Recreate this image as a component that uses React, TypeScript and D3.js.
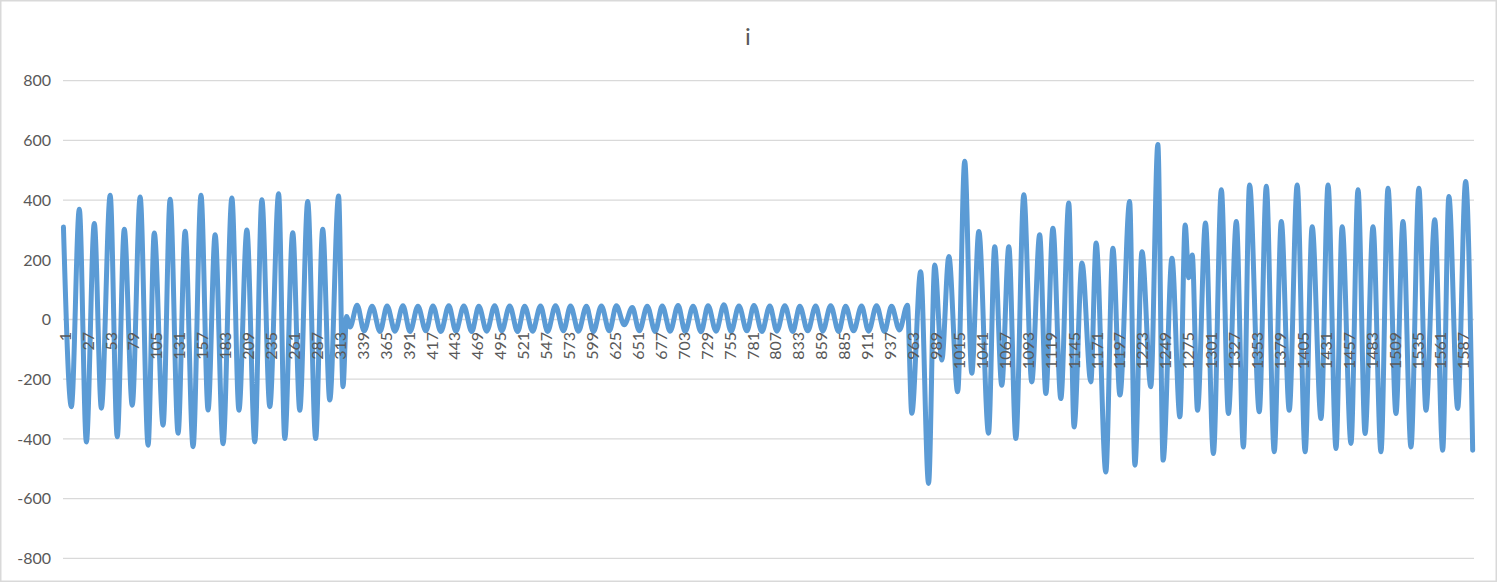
import React from 'react';
import * as d3 from 'd3';

// Sample numbers (category index) of the turning points of the trace
const sampleNo: number[] = [
  1, 10, 19, 27, 36, 44, 54, 62, 70, 79, 88, 97, 104, 114, 122, 131, 139, 148, 157, 165,
  173, 182, 192, 200, 209, 218, 226, 235, 245, 252, 261, 269, 278, 287, 295, 303, 313, 318,
  322, 326,
  334, 342, 351, 360, 368, 377, 386, 394, 403, 412, 420, 429, 438, 446, 455, 464, 472, 481,
  490, 498, 507, 516, 524, 533, 542, 550, 559, 568, 576, 585, 594, 602, 611, 620, 628, 637,
  646, 654, 663, 672, 680, 689, 698, 706, 715, 724, 732, 741, 750, 758, 767, 776, 784, 793,
  802, 810, 819, 828, 836, 845, 854, 862, 871, 880, 888, 897, 906, 914, 923, 932, 940, 949,
  958,
  963, 973, 982, 989, 997, 1005, 1015, 1023, 1031, 1039, 1050, 1057, 1065, 1073, 1081, 1090,
  1099, 1108, 1115, 1123, 1132, 1141, 1147, 1156, 1166, 1172, 1183, 1191, 1199, 1210, 1216,
  1224, 1234, 1242, 1248, 1258, 1267, 1273, 1277, 1281, 1287, 1296, 1305, 1314, 1322, 1331,
  1339, 1346, 1357, 1365, 1374, 1382, 1391, 1400, 1409, 1417, 1427, 1435, 1444, 1451, 1461,
  1469, 1477, 1486, 1495, 1503, 1512, 1520, 1529, 1538, 1546, 1556, 1565, 1572, 1582, 1591,
  1599,
];

// Value of series "i" at those samples
const current: number[] = [
  310, -292, 369, -410, 322, -297, 416, -393, 302, -287, 410, -421, 290, -354, 403, -381, 296, -426, 416, -303,
  284, -416, 407, -304, 300, -410, 401, -292, 421, -399, 291, -304, 395, -399, 302, -270, 414, -225,
  10, -25,
  48, -38, 44, -40, 45, -39, 46, -40, 44, -38, 45, -40, 46, -39, 45, -40, 44, -39,
  46, -38, 45, -40, 44, -39, 45, -40, 46, -38, 45, -39, 44, -40, 45, -38, 46, -18,
  40, -38, 44, -40, 45, -39, 47, -40, 44, -41, 46, -39, 49, -40, 45, -38, 47, -40,
  45, -39, 46, -40, 44, -38, 45, -39, 46, -40, 44, -38, 45, -39, 46, -40, 44, -35,
  48,
  -314, 160, -549, 183, -136, 211, -242, 530, -180, 295, -381, 244, -220, 244, -399, 418,
  -209, 284, -248, 306, -265, 390, -360, 189, -209, 256, -511, 239, -253, 395, -488,
  227, -225, 586, -471, 205, -326, 317, 140, 216, -304, 323, -449, 435, -315, 328,
  -427, 451, -309, 446, -443, 328, -304, 451, -443, 311, -332, 451, -432, 311, -415,
  435, -382, 311, -443, 440, -315, 328, -427, 440, -304, 334, -438, 412, -298, 462,
  -438,
];

const sampleCount = 1600;
const yTicks: number[] = [-800, -600, -400, -200, 0, 200, 400, 600, 800];
const xTickLabels: number[] = [
  1, 27, 53, 79, 105, 131, 157, 183, 209, 235, 261, 287, 313, 339, 365, 391, 417, 443, 469, 495,
  521, 547, 573, 599, 625, 651, 677, 703, 729, 755, 781, 807, 833, 859, 885, 911, 937, 963, 989,
  1015, 1041, 1067, 1093, 1119, 1145, 1171, 1197, 1223, 1249, 1275, 1301, 1327, 1353, 1379, 1405,
  1431, 1457, 1483, 1509, 1535, 1561, 1587,
];
const chartTitle = 'i';

export default function App() {
  const W = 1497;
  const H = 582;
  const left = 63;
  const right = 1474;
  const x = d3.scaleLinear().domain([0.5, sampleCount + 0.5]).range([left, right]);
  const y = d3.scaleLinear().domain([-800, 800]).range([558.3, 80.7]);
  const pts: [number, number][] = sampleNo.map((s, i) => [s, current[i]]);
  const line = d3
    .line<[number, number]>()
    .x((d) => x(d[0]))
    .y((d) => y(d[1]))
    .curve(d3.curveMonotoneX);
  const font = 'Lato, "Open Sans", sans-serif';
  const grey = '#595959';

  return (
    <svg width={W} height={H} style={{ position: 'absolute', left: 0, top: 0 }}>
      <rect x={0.75} y={0.75} width={W - 1.5} height={H - 1.5} fill="#fff" stroke="#d9d9d9" strokeWidth={1.5} />
      <text x={748} y={45} textAnchor="middle" fontFamily={font} fontSize={24} fill={grey}>
        {chartTitle}
      </text>
      {yTicks.map((t) => (
        <g key={t}>
          <line x1={left} x2={right} y1={y(t)} y2={y(t)} stroke="#d9d9d9" strokeWidth={1.3} />
          <text x={51} y={y(t)} dy="0.36em" textAnchor="end" fontFamily={font} fontSize={16} fill={grey}>
            {t}
          </text>
        </g>
      ))}
      <path
        d={line(pts) || ''}
        fill="none"
        stroke="#5B9BD5"
        strokeWidth={5}
        strokeLinejoin="round"
        strokeLinecap="round"
      />
      {xTickLabels.map((l) => (
        <text
          key={l}
          transform={`translate(${x(l) + 1.5},332) rotate(-90)`}
          textAnchor="end"
          dy="0.36em"
          fontFamily={font}
          fontSize={16}
          fill={grey}
        >
          {l}
        </text>
      ))}
    </svg>
  );
}
